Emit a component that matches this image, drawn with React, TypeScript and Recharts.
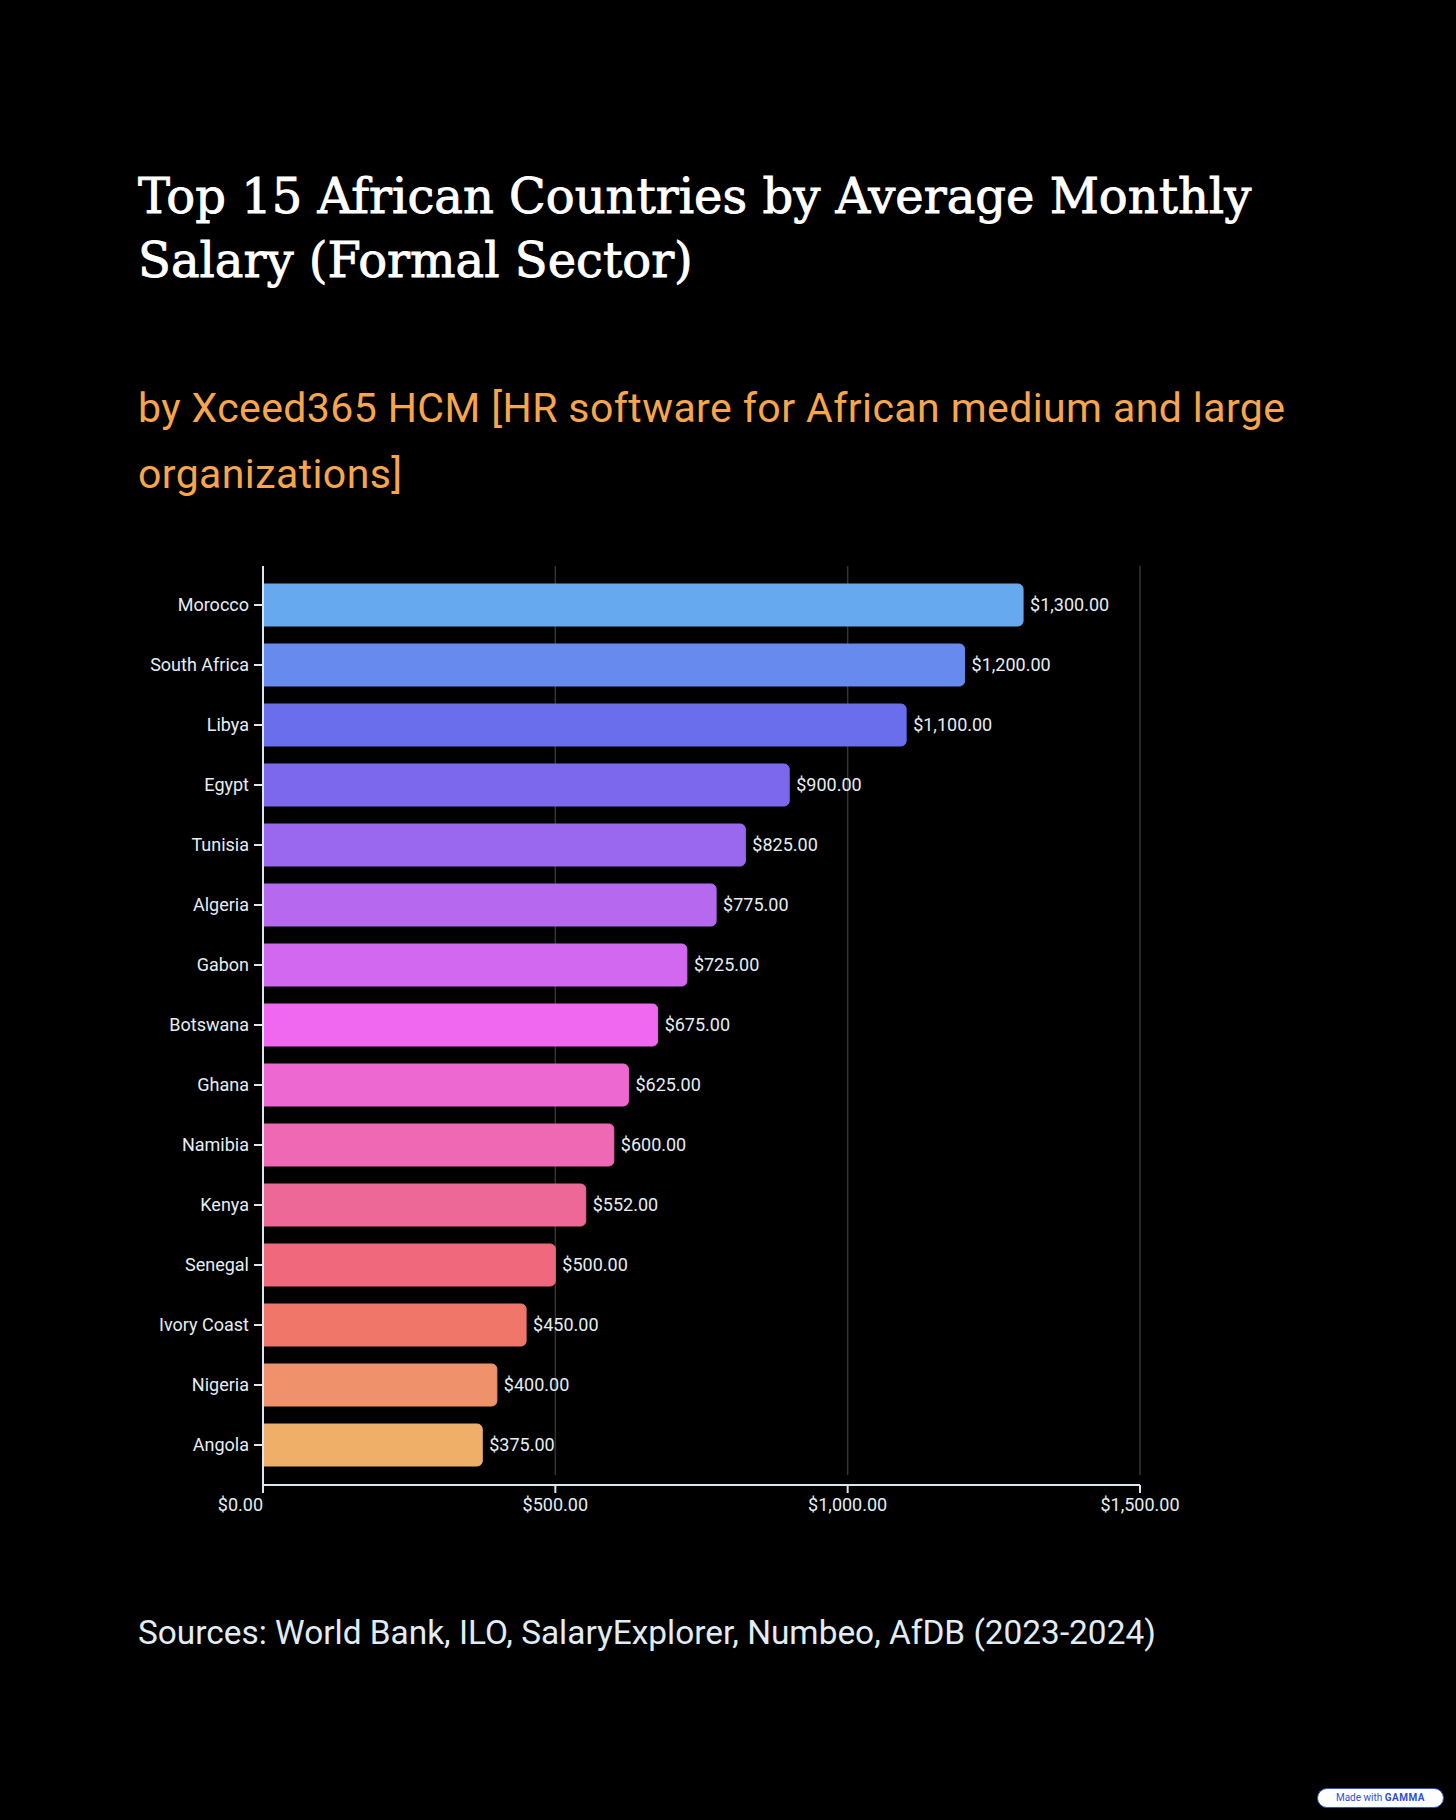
import { BarChart, Bar, XAxis, YAxis, CartesianGrid, Cell, LabelList } from 'recharts'

const countries = [
  'Morocco',
  'South Africa',
  'Libya',
  'Egypt',
  'Tunisia',
  'Algeria',
  'Gabon',
  'Botswana',
  'Ghana',
  'Namibia',
  'Kenya',
  'Senegal',
  'Ivory Coast',
  'Nigeria',
  'Angola',
]

const salaries = [1300, 1200, 1100, 900, 825, 775, 725, 675, 625, 600, 552, 500, 450, 400, 375]

const barColors = [
  '#66A9EE',
  '#668AEE',
  '#6A6DEC',
  '#7C68EC',
  '#9A68EF',
  '#B668EF',
  '#D268EF',
  '#EF68EF',
  '#EE68D2',
  '#EE68B4',
  '#EE6897',
  '#F0687C',
  '#EF7668',
  '#EF926B',
  '#EFAF69',
]

const xTicks = [0, 500, 1000, 1500]

const data = countries.map((country, i) => ({
  country,
  salary: salaries[i],
}))

const textColor = '#E6EDF3'
const axisColor = '#DCE6EE'

const money = (v: number) =>
  '$' + Number(v).toLocaleString('en-US', { minimumFractionDigits: 2, maximumFractionDigits: 2 })

function XTick(props: any) {
  const { x, y, payload } = props
  return (
    <text
      x={x}
      y={y}
      dy="0.71em"
      textAnchor={payload.value === 0 ? 'end' : 'middle'}
      fill={textColor}
      fontSize={18}
    >
      {money(payload.value)}
    </text>
  )
}

// grid stops a little short of the x axis
function GridLine(props: any) {
  return (
    <line
      key={`grid-${props.x1}`}
      x1={props.x1}
      x2={props.x2}
      y1={props.y1}
      y2={props.y2 - 10}
      stroke="#343434"
      strokeWidth={1.5}
    />
  )
}

export default function App() {
  return (
    <div
      style={{
        position: 'relative',
        width: 1456,
        height: 1820,
        background: '#000',
        fontFamily: 'Roboto, sans-serif',
        overflow: 'hidden',
      }}
    >
      <style>{`body { margin: 0; background: #000; }`}</style>

      <div
        style={{
          position: 'absolute',
          left: 138,
          top: 164,
          fontFamily: '"DejaVu Serif", serif',
          fontSize: 48,
          lineHeight: '64px',
          color: '#FFFFFF',
          WebkitTextStroke: '0.9px #FFFFFF',
          whiteSpace: 'nowrap',
        }}
      >
        Top 15 African Countries by Average Monthly
        <br />
        Salary (Formal Sector)
      </div>

      <div
        style={{
          position: 'absolute',
          left: 138,
          top: 375,
          fontSize: 41,
          letterSpacing: 0.4,
          lineHeight: '66px',
          color: '#F7A64C',
          whiteSpace: 'nowrap',
        }}
      >
        by Xceed365 HCM [HR software for African medium and large
        <br />
        organizations]
      </div>

      <div style={{ position: 'absolute', left: 0, top: 540 }}>
        <BarChart
          width={1456}
          height={1000}
          data={data}
          layout="vertical"
          margin={{ top: 26, right: 316, bottom: 15, left: 23 }}
        >
          <CartesianGrid horizontal={false} vertical={GridLine} />
          <XAxis
            type="number"
            domain={[0, 1500]}
            ticks={xTicks}
            height={40}
            axisLine={{ stroke: axisColor, strokeWidth: 2 }}
            tickLine={{ stroke: axisColor, strokeWidth: 2 }}
            tickSize={8}
            tickMargin={5}
            tick={<XTick />}
          />
          <YAxis
            type="category"
            dataKey="country"
            width={240}
            padding={{ top: 9, bottom: 10 }}
            axisLine={{ stroke: axisColor, strokeWidth: 2 }}
            tickLine={{ stroke: axisColor, strokeWidth: 2 }}
            tickSize={9}
            tickMargin={5}
            tick={{ fill: textColor, fontSize: 18 }}
          />
          <Bar dataKey="salary" barSize={42} radius={[0, 5, 5, 0]} isAnimationActive={false}>
            {data.map((d, i) => (
              <Cell key={d.country} fill={barColors[i]} stroke={barColors[i]} strokeWidth={1} />
            ))}
            <LabelList
              dataKey="salary"
              position="right"
              offset={7}
              fill={textColor}
              fontSize={18}
              formatter={(v: any) => money(v)}
            />
          </Bar>
        </BarChart>
      </div>

      <div
        style={{
          position: 'absolute',
          left: 138,
          top: 1613,
          fontSize: 33.4,
          lineHeight: '40px',
          color: '#E2ECF4',
          whiteSpace: 'nowrap',
        }}
      >
        Sources: World Bank, ILO, SalaryExplorer, Numbeo, AfDB (2023-2024)
      </div>

      <div
        style={{
          position: 'absolute',
          left: 1317,
          top: 1788,
          width: 125,
          height: 18,
          border: '1.5px solid #2E4FD6',
          borderRadius: 10,
          background: '#FFFFFF',
          color: '#2E4FD6',
          fontSize: 10,
          lineHeight: '18px',
          textAlign: 'center',
          whiteSpace: 'nowrap',
        }}
      >
        Made with <span style={{ fontWeight: 700, letterSpacing: 0.5 }}>GAMMA</span>
      </div>
    </div>
  )
}
